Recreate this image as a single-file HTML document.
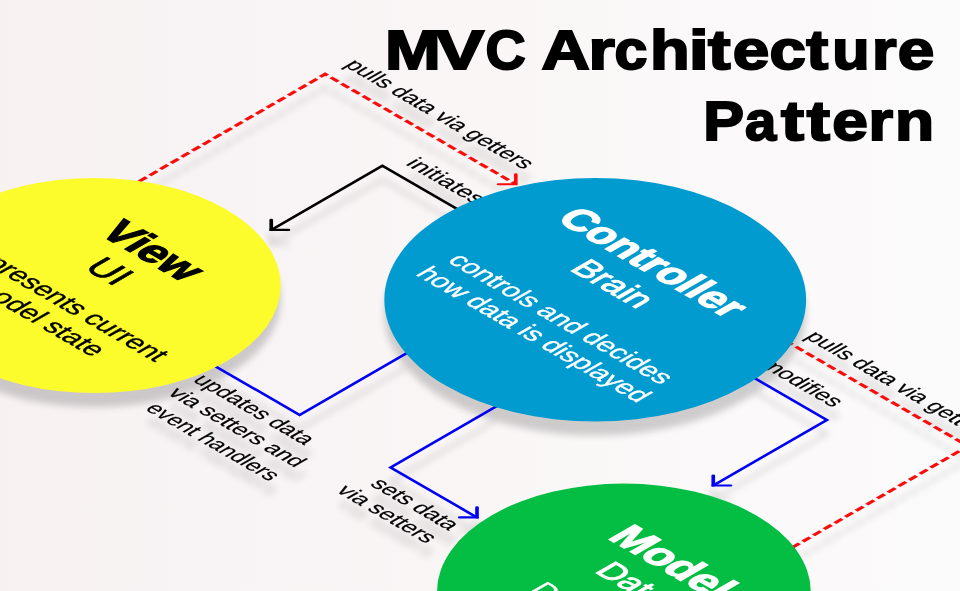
<!DOCTYPE html>
<html><head><meta charset="utf-8"><style>
html,body{margin:0;padding:0;width:960px;height:591px;overflow:hidden;background:#f8f5f5;}
svg{display:block;}
</style></head><body>
<svg width="960" height="591" viewBox="0 0 960 591">
<defs>
<linearGradient id="bgg" x1="0" y1="0" x2="1" y2="0">
<stop offset="0" stop-color="#f7f1f2"/><stop offset="1" stop-color="#fcfbfb"/>
</linearGradient>
<filter id="sh" x="-20%" y="-20%" width="140%" height="140%" color-interpolation-filters="sRGB">
<feGaussianBlur in="SourceAlpha" stdDeviation="3.8"/>
<feOffset dx="0" dy="14" result="o"/>
<feComponentTransfer in="o" result="s"><feFuncA type="linear" slope="0.18"/></feComponentTransfer>
<feMerge><feMergeNode in="s"/><feMergeNode in="SourceGraphic"/></feMerge>
</filter>
</defs>
<rect width="960" height="591" fill="url(#bgg)"/>
<g filter="url(#sh)">
<g transform="matrix(0.8660254,0.5,-0.8660254,0.5,0,0)">
<g fill="none" stroke-width="3" stroke-linejoin="miter" stroke-linecap="round">
<path d="M482,-113.6 L261.8,-113.6 L261.8,180" stroke="#fa0c0c" stroke-width="3.6" stroke-dasharray="8.4 3.9" stroke-dashoffset="4" stroke-linecap="butt"/>
<path d="M472.0,-123.6 L482.0,-113.6 L472.0,-103.6" stroke="#fa0c0c"/>
<path d="M600,-55 L386.5,-55 L386.5,73.3" stroke="#000"/>
<path d="M376.5,63.3 L386.5,73.3 L396.5,63.3" stroke="#000"/>
<path d="M587.9,80 L587.9,241.9 L380,241.9" stroke="#0000f4"/>
<path d="M693,80 L693,242 L792.8,242" stroke="#0000f4"/>
<path d="M782.8,232.0 L792.8,242.0 L782.8,252.0" stroke="#0000f4"/>
<path d="M760,-57.5 L897.3,-57.5 L897.3,73.7" stroke="#0000f4"/>
<path d="M887.3,63.7 L897.3,73.7 L907.3,63.7" stroke="#0000f4"/>
<path d="M720,-112.8 L1005,-112.8 L1005,150" stroke="#fa0c0c" stroke-width="3.6" stroke-dasharray="8.4 3.9" stroke-linecap="butt"/>
</g>
<g font-family="Liberation Sans, sans-serif" font-size="22.3" fill="#000" stroke="#000" stroke-width="0.2">
<text x="264" y="-132.5" textLength="208" lengthAdjust="spacingAndGlyphs">pulls data via getters</text>
<text x="398" y="-69.5" textLength="81.5" lengthAdjust="spacingAndGlyphs">initiates</text>
<text x="802" y="-126.8" textLength="208" lengthAdjust="spacingAndGlyphs">pulls data via getters</text>
<text x="888.5" y="-73" text-anchor="end" textLength="85.5" lengthAdjust="spacingAndGlyphs">modifies</text>
<text x="491.5" y="269.8" textLength="129.6" lengthAdjust="spacingAndGlyphs">updates data</text>
<text x="490" y="297.5" textLength="148.4" lengthAdjust="spacingAndGlyphs">via setters and</text>
<text x="492.5" y="326" textLength="144.5" lengthAdjust="spacingAndGlyphs">event handlers</text>
<text x="790" y="271.8" text-anchor="end" textLength="92.2" lengthAdjust="spacingAndGlyphs">sets data</text>
<text x="790" y="297.8" text-anchor="end" textLength="105.1" lengthAdjust="spacingAndGlyphs">via setters</text>
</g>
<circle cx="340" cy="231" r="152.2" fill="#fcfc2d"/>
<circle cx="643.4" cy="-43.9" r="172.2" fill="#019bcf"/>
<circle cx="951.6" cy="231.2" r="152.5" fill="#03be43"/>
<g font-family="Liberation Sans, sans-serif" text-anchor="middle">
<g stroke="#000" fill="#000">
<text x="339" y="177" font-size="43.5" font-weight="bold" stroke-width="1.5">View</text>
<text x="334.5" y="220.3" font-size="36.5" stroke-width="0.8">UI</text>
<text x="341" y="272.8" font-size="27.3" stroke-width="0.4">represents current</text>
<text x="340" y="304" font-size="27.3" stroke-width="0.4">model state</text>
</g>
<g fill="#fff" stroke="#fff">
<text x="639.5" y="-100.7" font-size="41.5" font-weight="bold" stroke-width="1.5">Controller</text>
<text x="637.5" y="-58.8" font-size="34" stroke-width="1.1">Brain</text>
<text x="642.6" y="3.6" font-size="26.95" stroke-width="0.4">controls and decides</text>
<text x="642.6" y="35" font-size="26.95" stroke-width="0.4">how data is displayed</text>
<text x="950.5" y="187.7" font-size="43" font-weight="bold" stroke-width="1.5">Model</text>
<text x="949.5" y="229" font-size="33" stroke-width="1.1">Data</text>
<text x="896" y="284.5" font-size="27.3" stroke-width="0.4" text-anchor="start">Data and logic</text>
</g></g>
</g></g>
<g font-family="Liberation Sans, sans-serif" font-weight="bold" fill="#000" stroke="#000" stroke-width="2.00" stroke-linejoin="miter"><text transform="translate(388.30,69.00) scale(1.2022,1)" x="-2.72" font-size="55.67">M</text><text transform="translate(435.00,69.00) scale(1.3031,1)" x="0.62" font-size="55.67">V</text><text transform="translate(486.70,69.00) scale(0.9975,1)" x="-1.28" font-size="55.67">C</text><text transform="translate(542.00,69.00) scale(1.1995,1)" x="-0.39" font-size="55.67">A</text><text transform="translate(591.70,69.00) scale(1.2166,1)" x="-2.67" font-size="55.67">r</text><text transform="translate(615.80,69.00) scale(1.0598,1)" x="-1.17" font-size="55.67">c</text><text transform="translate(653.30,69.00) scale(1.1651,1)" x="-2.89" font-size="55.67">h</text><text transform="translate(692.50,69.00) scale(1.2969,1)" x="-2.89" font-size="55.67">i</text><text transform="translate(707.50,69.00) scale(1.2149,1)" x="0.32" font-size="55.67">t</text><text transform="translate(734.20,69.00) scale(1.1806,1)" x="-1.17" font-size="55.67">e</text><text transform="translate(770.80,69.00) scale(1.1730,1)" x="-1.17" font-size="55.67">c</text><text transform="translate(805.80,69.00) scale(1.1836,1)" x="0.32" font-size="55.67">t</text><text transform="translate(835.00,69.00) scale(1.0975,1)" x="-2.45" font-size="55.67">u</text><text transform="translate(875.00,69.00) scale(1.1330,1)" x="-2.67" font-size="55.67">r</text><text transform="translate(899.20,69.00) scale(1.1806,1)" x="-1.17" font-size="55.67">e</text><text transform="translate(706.30,140.30) scale(1.0877,1)" x="-2.76" font-size="56.25">P</text><text transform="translate(745.60,140.30) scale(0.9971,1)" x="-0.65" font-size="56.25">a</text><text transform="translate(780.60,140.30) scale(1.2294,1)" x="0.31" font-size="56.25">t</text><text transform="translate(806.30,140.30) scale(1.2398,1)" x="0.31" font-size="56.25">t</text><text transform="translate(833.70,140.30) scale(1.1384,1)" x="-1.20" font-size="56.25">e</text><text transform="translate(871.60,140.30) scale(1.1225,1)" x="-2.71" font-size="56.25">r</text><text transform="translate(898.00,140.30) scale(1.1384,1)" x="-2.71" font-size="56.25">n</text></g>
</svg>
</body></html>
